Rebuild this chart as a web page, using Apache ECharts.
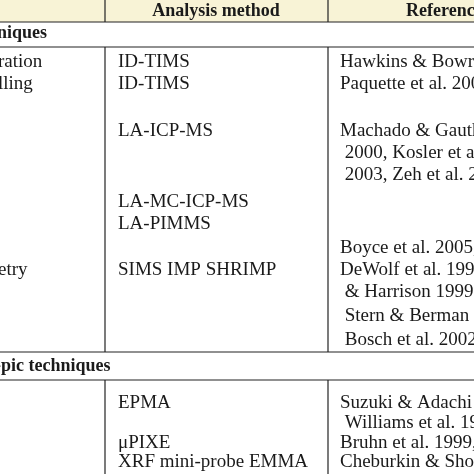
<!DOCTYPE html>
<html><head><meta charset="utf-8">
<script src="https://cdn.jsdelivr.net/npm/echarts@6/dist/echarts.min.js"></script>
<style>html,body{margin:0;padding:0;background:#fff}#c{width:474px;height:474px}</style>
</head><body><div id="c"></div>
<script>
// Table content
const headers = ["Analysis method", "Reference"];
const sections = ["aniques", "-pic techniques"];
const leftLabels = [["ration", 62], ["lling", 84], ["etry", 270]];
const methods = [["ID-TIMS",62],["ID-TIMS",84],["LA-ICP-MS",131],["LA-MC-ICP-MS",202],["LA-PIMMS",224],["SIMS IMP SHRIMP",270],
                 ["EPMA",403],["\u03bcPIXE",443],["XRF mini-probe EMMA",462]];
const refs = [["Hawkins & Bowring",62],["Paquette et al. 2004",84],["Machado & Gauthier",131],[" 2000, Kosler et al.",153],[" 2003, Zeh et al. 2",175],
              ["Boyce et al. 2005, ",248],["DeWolf et al. 1993",270],[" & Harrison 1999",292],[" Stern & Berman",316],[" Bosch et al. 2002",340],
              ["Suzuki & Adachi 1",403],[" Williams et al. 19",423],["Bruhn et al. 1999, ",443],["Cheburkin & Shot",462]];
const hLines = [22, 47, 352, 380];
const font = '"Liberation Serif", "DejaVu Serif", serif';
const g = [];
g.push({type:'rect',shape:{x:0,y:0,width:474,height:22},style:{fill:'#f8f3d6'}});
const txt=(s,x,y,bold,align)=>g.push({type:'text',x:x,y:y,style:{text:s,font:(bold?'bold 18px ':'19px ')+font,fill:'#1a1a1a',textVerticalAlign:'middle',textAlign:align||'left'}});
txt(headers[0],216,11,true,'center');
txt(headers[1],406,11,true);
txt(sections[0],-12,33,true);
txt(sections[1],-5,366,true);
leftLabels.forEach(([s,y])=>txt(s,-2,y));
methods.forEach(([s,y])=>txt(s,118,y));
refs.forEach(([s,y])=>txt(s,340,y));
hLines.forEach(y=>g.push({type:'line',shape:{x1:0,y1:y,x2:474,y2:y},style:{stroke:'#222',lineWidth:1.2}}));
[[105,0,22],[328,0,22],[105,47,352],[328,47,352],[105,380,474],[328,380,474]].forEach(([x,a,b])=>g.push({type:'line',shape:{x1:x,y1:a,x2:x,y2:b},style:{stroke:'#222',lineWidth:1.2}}));
const chart = echarts.init(document.getElementById('c'));
chart.setOption({animation:false,graphic:g});
</script></body></html>
